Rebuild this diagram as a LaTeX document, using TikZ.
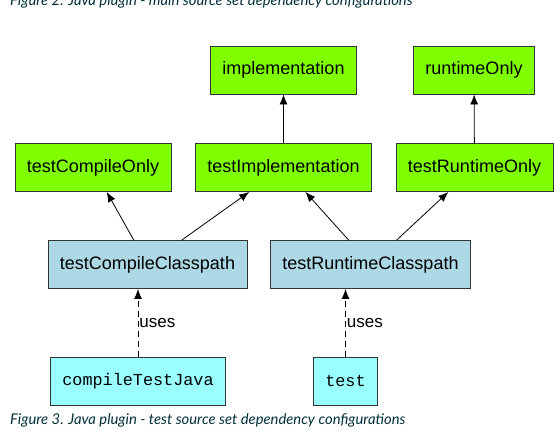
\documentclass[tikz,border=0pt]{standalone}
\usepackage{fontspec}
\setmainfont{Liberation Sans}
\setmonofont{Liberation Mono}
\newfontfamily\capfont{Lato}
\usetikzlibrary{arrows.meta}
\definecolor{confgreen}{HTML}{7FFF00}
\definecolor{pathblue}{HTML}{ADD8E6}
\definecolor{taskcyan}{HTML}{99FFFF}
\definecolor{captext}{HTML}{02303A}
\begin{document}
\begin{tikzpicture}[x=1pt, y=-1pt,
    conf/.style={draw=black!80, line width=0.9pt, fill=confgreen, minimum height=48pt,
                 inner xsep=12pt, font=\fontsize{18}{20}\selectfont},
    path/.style={conf, fill=pathblue},
    task/.style={conf, fill=taskcyan, font=\ttfamily\fontsize{16.8}{20}\selectfont},
    dep/.style={line width=0.8pt, -{Latex[length=10pt,width=8pt]}},
    uses/.style={dep, dash pattern=on 6pt off 4pt},
    caption/.style={font=\capfont\itshape\fontsize{14.8}{18}\selectfont, text=captext, inner sep=0pt}]
    \useasboundingbox (0,0) rectangle (560,440);

    \node[caption, anchor=base west] (fig2) at (10,5) {Figure 2. Java plugin - main source set dependency configurations};

    % configurations
    \node[conf] (impl)    at (283.5,70)  {implementation};
    \node[conf] (rtonly)  at (474,70)    {runtimeOnly};
    \node[conf] (tconly)  at (93,167.5)  {testCompileOnly};
    \node[conf] (timpl)   at (283.5,167.5) {testImplementation};
    \node[conf] (trtonly) at (474.5,167.5) {testRuntimeOnly};

    % classpaths
    \node[path] (tccp) at (147.5,264.5) {testCompileClasspath};
    \node[path] (trcp) at (370.5,264.5) {testRuntimeClasspath};

    % tasks
    \node[task] (ctj)  at (138,381)   {compileTestJava};
    \node[task] (test) at (345.5,381) {test};

    \draw[dep] (timpl) -- (impl);
    \draw[dep] (trtonly) -- (rtonly);
    \draw[dep] (tccp) -- (tconly);
    \draw[dep] (tccp) -- (timpl);
    \draw[dep] (trcp) -- (timpl);
    \draw[dep] (trcp) -- (trtonly);
    \draw[uses] (ctj.north) -- node[right, inner sep=1pt] {\fontsize{17}{20}\selectfont uses} (ctj.north |- tccp.south);
    \draw[uses] (test.north) -- node[right, inner sep=1pt] {\fontsize{17}{20}\selectfont uses} (test.north |- trcp.south);

    \node[caption, anchor=base west] (fig3) at (10,424) {Figure 3. Java plugin - test source set dependency configurations};
\end{tikzpicture}
\end{document}
